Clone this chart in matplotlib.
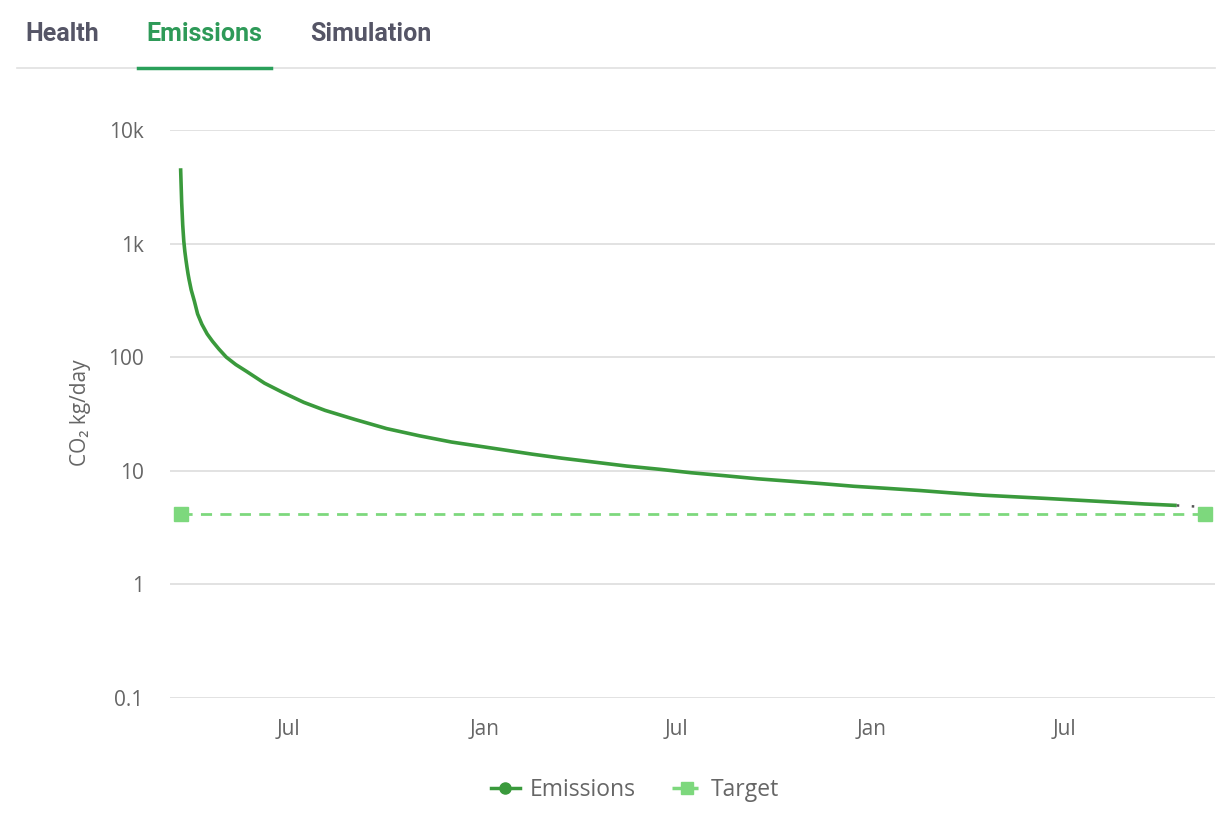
import matplotlib
matplotlib.use("Agg")
import matplotlib.pyplot as plt
from matplotlib.lines import Line2D
import numpy as np

plt.rcParams['font.family'] = ['Open Sans', 'DejaVu Sans']

# emissions, CO2 kg/day
em_dates = ['2021-03-21', '2021-03-22', '2021-03-23', '2021-03-24', '2021-03-25',
            '2021-03-26', '2021-03-27', '2021-03-28', '2021-03-29', '2021-03-31',
            '2021-04-03', '2021-04-06', '2021-04-10', '2021-04-15', '2021-04-20',
            '2021-04-26', '2021-05-03', '2021-05-12', '2021-05-22', '2021-06-08',
            '2021-06-25', '2021-07-15', '2021-08-04', '2021-09-01', '2021-10-01',
            '2021-11-01', '2021-12-01', '2022-01-01', '2022-02-15', '2022-03-15',
            '2022-04-15', '2022-05-15', '2022-06-15', '2022-07-15', '2022-08-15',
            '2022-09-15', '2022-10-15', '2022-11-15', '2022-12-15', '2023-01-15',
            '2023-02-15', '2023-03-15', '2023-04-15', '2023-05-15', '2023-06-15',
            '2023-07-15', '2023-08-15', '2023-09-15', '2023-10-15']
em_values = [4600, 2300, 1450, 1050, 850,
             720, 620, 540, 480, 390,
             310, 240, 195, 160, 138,
             118, 100, 86, 75, 59,
             49, 40, 34, 28.3, 23.5,
             20.3, 17.9, 16.2, 14, 12.9,
             11.9, 11, 10.3, 9.6, 9.05,
             8.5, 8.1, 7.7, 7.3, 7.0,
             6.7, 6.4, 6.1, 5.9, 5.7,
             5.5, 5.3, 5.1, 4.95]

# projected tail (dotted)
proj_dates = ['2023-10-15', '2023-11-09']
proj_values = [4.95, 4.8]

# target
target_dates = ['2021-03-21', '2023-11-11']
target_values = [4.2, 4.2]

tick_dates = ['2021-07-01', '2022-01-01', '2022-07-01', '2023-01-01', '2023-07-01']
tick_labels = ['Jul', 'Jan', 'Jul', 'Jan', 'Jul']
y_ticks = [0.1, 1, 10, 100, 1000, 10000]
y_labels = ['0.1', '1', '10', '100', '1k', '10k']

tabs = ['Health', 'Emissions', 'Simulation']

c_em = '#3a9a3c'
c_target = '#7dd87d'
c_grid = '#dddddd'
c_text = '#666666'

to_d = lambda l: np.array(l, dtype='datetime64[D]')

fig = plt.figure(figsize=(12.3, 8.26), dpi=100)
ax = fig.add_axes([0.1382, 0.155, 0.8496, 0.6877])

ax.plot(to_d(em_dates), em_values, color=c_em, lw=2.6, solid_capstyle='butt',
        solid_joinstyle='round', zorder=3)
ax.plot(to_d(proj_dates), proj_values, color='#555555', lw=1.8, linestyle=(0, (1, 5)), zorder=3)
ax.plot(to_d(target_dates), target_values, color=c_target, lw=2, linestyle=(0, (4, 3)),
        marker='s', markersize=10, zorder=2)

ax.set_yscale('log')
ax.set_ylim(0.1, 10000)
ax.set_xlim(np.datetime64('2021-03-11'), np.datetime64('2023-11-20'))
ax.set_yticks(y_ticks)
ax.set_yticklabels(y_labels)
ax.yaxis.set_minor_locator(matplotlib.ticker.NullLocator())
ax.set_xticks(to_d(tick_dates))
ax.set_xticklabels(tick_labels)
ax.tick_params(length=0, labelsize=15, labelcolor=c_text)
ax.tick_params(axis='y', pad=19)
ax.tick_params(axis='x', pad=15)
ax.grid(axis='y', color=c_grid, lw=1.2)
for s in ax.spines.values():
    s.set_visible(False)

fig.text(80 / 1230, 1 - 413 / 826, 'CO₂ kg/day', rotation=90, ha='center', va='center',
         fontsize=15, color=c_text)

# legend
handles = [Line2D([], [], color=c_em, lw=2.5, marker='o', markersize=8),
           Line2D([], [], color=c_target, lw=2.5, linestyle=(0, (3, 1.5)), marker='s', markersize=9)]
fig.legend(handles, ['Emissions', 'Target'], loc='center', bbox_to_anchor=(635 / 1230, 1 - 790 / 826),
           ncol=2, frameon=False, fontsize=16.5, labelcolor=c_text, handlelength=1.3,
           columnspacing=1.6, handletextpad=0.4)

# tab header
tab_x = [25, 146, 310]
tab_col = ['#555566', '#2e9a58', '#555566']
for t, x, c in zip(tabs, tab_x, tab_col):
    fig.text(x / 1230, 1 - 34 / 826, t, ha='left', va='center', fontsize=18,
             fontweight='bold', color=c, family=['Roboto', 'DejaVu Sans'])
fig.add_artist(Line2D([17 / 1230, 1215 / 1230], [1 - 68 / 826] * 2, color='#e0e0e0', lw=1.2))
fig.add_artist(Line2D([138 / 1230, 271 / 1230], [1 - 68 / 826] * 2, color='#2aa05a', lw=2.5))

fig.savefig('out.png', dpi=100)
